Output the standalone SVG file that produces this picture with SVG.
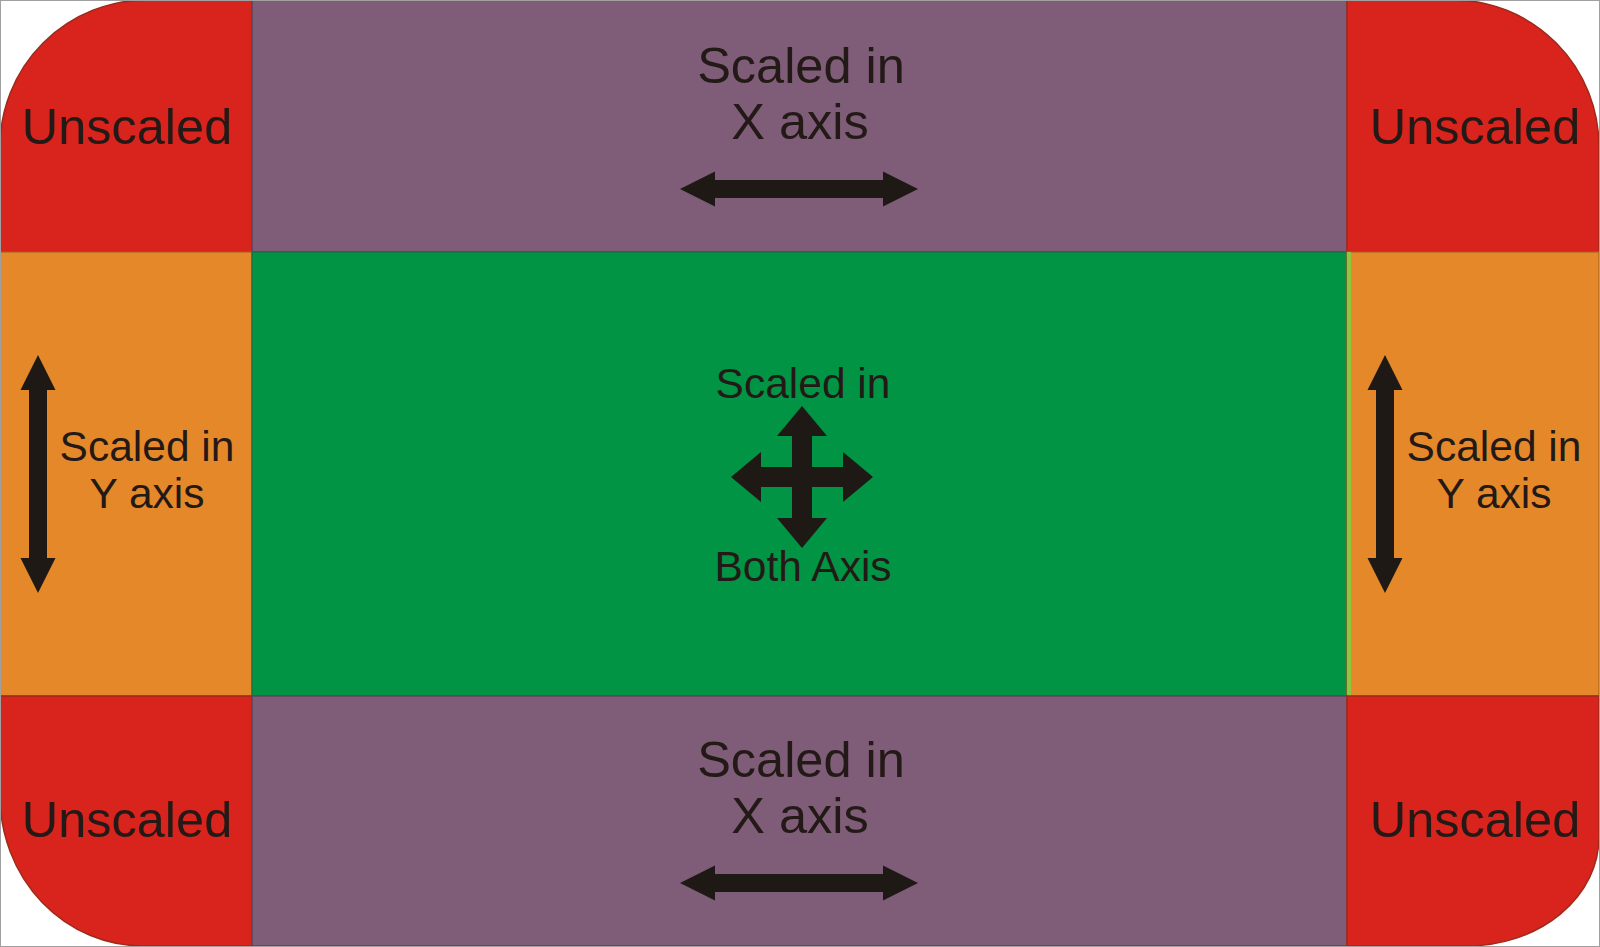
<svg xmlns="http://www.w3.org/2000/svg" width="1600" height="947" viewBox="0 0 1600 947">
  <style>
    .red { fill: #D8241C; stroke: #9E2A1C; stroke-width: 1.5; }
    .purple { fill: #7F5D78; stroke: #5E4558; stroke-width: 1.5; }
    .orange { fill: #E5882A; stroke: #A9651F; stroke-width: 1.2; }
    .green { fill: #009444; stroke: #1E6B40; stroke-width: 1.2; }
    .lbl { font-family: "Liberation Sans", Arial, sans-serif; fill: #231916; text-anchor: middle; }
    .big { font-size: 50.5px; }
    .mid { font-size: 50.5px; }
    .sml { font-size: 42.5px; }
    .arrow { fill: #1E1915; }
  </style>
  <defs>
    <path id="dbl" d="M-119,0 L-84,-17.5 L-84,-9 L84,-9 L84,-17.5 L119,0 L84,17.5 L84,9 L-84,9 L-84,17.5 Z"/>
    <path id="cross" d="M0,-71 L25,-41 L10,-41 L10,-10 L41,-10 L41,-25 L71,0 L41,25 L41,10 L10,10 L10,41 L25,41 L0,71 L-25,41 L-10,41 L-10,10 L-41,10 L-41,25 L-71,0 L-41,-25 L-41,-10 L-10,-10 L-10,-41 L-25,-41 Z"/>
  </defs>
  <rect x="0" y="0" width="1600" height="947" fill="#FFFFFF"/>

  <g id="top-left">
    <path class="red" d="M0,147 A147,147 0 0 1 147,0 H252 V252 H0 Z"/>
    <text class="lbl big" x="127" y="144">Unscaled</text>
  </g>
  <g id="top-middle">
    <rect class="purple" x="252" y="0" width="1095" height="252"/>
    <text class="lbl mid" x="801" y="83">Scaled in</text>
    <text class="lbl mid" x="800" y="139">X axis</text>
    <use href="#dbl" class="arrow" transform="translate(799,189)"/>
  </g>
  <g id="top-right">
    <path class="red" d="M1347,0 H1453 A146,147 0 0 1 1599,147 V252 H1347 Z"/>
    <text class="lbl big" x="1475" y="144">Unscaled</text>
  </g>

  <g id="middle-left">
    <rect class="orange" x="0" y="252" width="252" height="444"/>
    <use href="#dbl" class="arrow" transform="translate(38,474) rotate(90)"/>
    <text class="lbl sml" x="147" y="461">Scaled in</text>
    <text class="lbl sml" x="147" y="508">Y axis</text>
  </g>
  <g id="center">
    <rect class="green" x="252" y="252" width="1095" height="444"/>
    <text class="lbl sml" x="803" y="398">Scaled in</text>
    <use href="#cross" class="arrow" transform="translate(802,477)"/>
    <text class="lbl sml" x="803" y="581">Both Axis</text>
  </g>
  <g id="middle-right">
    <rect class="orange" x="1347" y="252" width="252" height="444"/>
    <rect x="1347" y="252" width="4" height="444" fill="#8DC63F"/>
    <use href="#dbl" class="arrow" transform="translate(1385,474) rotate(90)"/>
    <text class="lbl sml" x="1494" y="461">Scaled in</text>
    <text class="lbl sml" x="1494" y="508">Y axis</text>
  </g>

  <g id="bottom-left">
    <path class="red" d="M0,696 H252 V946 H143 A143,150 0 0 1 0,797 Z"/>
    <text class="lbl big" x="127" y="837">Unscaled</text>
  </g>
  <g id="bottom-middle">
    <rect class="purple" x="252" y="696" width="1095" height="250"/>
    <text class="lbl mid" x="801" y="777">Scaled in</text>
    <text class="lbl mid" x="800" y="833">X axis</text>
    <use href="#dbl" class="arrow" transform="translate(799,883)"/>
  </g>
  <g id="bottom-right">
    <path class="red" d="M1347,696 H1599 V837 A132,109 0 0 1 1467,946 H1347 Z"/>
    <text class="lbl big" x="1475" y="837">Unscaled</text>
  </g>

  <g id="connectors"></g>

  <rect x="0.5" y="0.5" width="1599" height="946" fill="none" stroke="#A0A0A0" stroke-width="1"/>
</svg>
